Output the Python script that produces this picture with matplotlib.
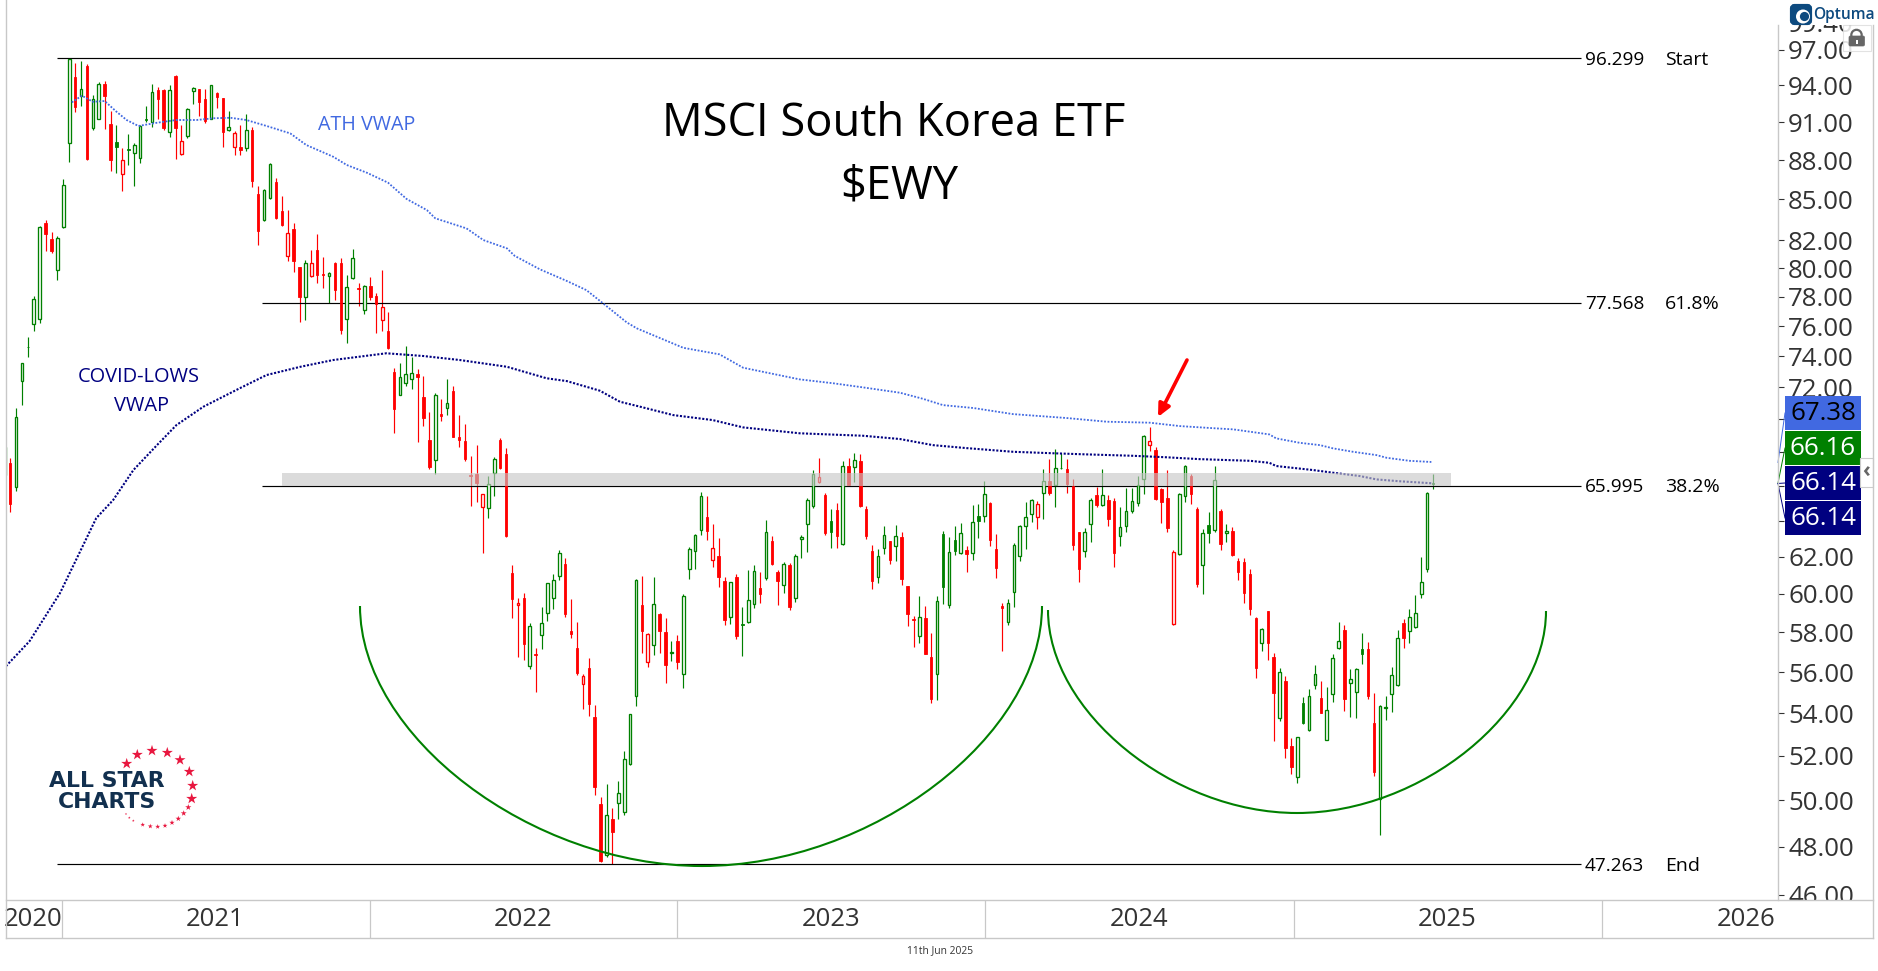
import numpy as np
import pandas as pd
import matplotlib
matplotlib.use('Agg')
import matplotlib.pyplot as plt
import matplotlib.dates as mdates
from matplotlib.lines import Line2D
from matplotlib.path import Path
from matplotlib.patches import PathPatch, Rectangle, FancyBboxPatch, Circle
from matplotlib.ticker import FixedLocator, FixedFormatter, NullLocator
from matplotlib.transforms import Affine2D, Bbox

plt.rcParams['font.family'] = ['Open Sans', 'DejaVu Sans']

colors = 'GRGGGGGRRGGGRGRGGRRGRGGGGGRRGRRGGRRGRRGRRGRRGGRRRRRGRRRGRRGGRGRRRRRGGGRRRGRGRRRRRRGGRRRRRGRGGGGRRRRRRRGRGGGGRRGRRGRGGGGRRRRGRGGGRGRRGRGGGGRRGRGRGRRRGGRGRRRGRRGGGGGRGGGRRRGGGGGRGRGGRRRGGRGRRGGGGGRRRRRGGRRGGGRGRRRRRGRRGRRGGGGRGGGRGGGRRGGGGRGGGGG'

opens = [66.64,67.33,65.95,72.42,74.63,76.16,76.50,83.22,82.05,79.88,82.97,89.31,94.67,93.12,95.62,90.55,91.22,94.09,90.85,89.39,86.95,88.84,88.58,88.19,91.28,91.03,93.62,93.62,90.23,94.78,
88.50,89.92,93.51,93.67,92.85,91.28,93.37,92.93,90.39,88.99,88.99,88.97,90.37,85.38,83.44,85.13,86.29,84.10,80.88,82.78,80.07,78.00,79.46,81.26,79.55,79.46,80.33,80.33,76.50,79.32,
78.58,77.06,78.72,78.02,76.39,75.65,72.98,71.49,72.30,72.51,72.83,71.39,68.73,67.50,70.30,70.68,71.77,68.89,68.65,66.64,66.69,64.76,64.70,66.73,68.73,67.88,61.09,59.39,59.76,56.28,
56.89,57.84,58.97,59.76,60.97,61.58,58.06,57.18,55.39,56.18,53.80,49.82,47.64,49.17,49.87,49.47,51.61,54.81,59.39,56.48,57.33,58.94,57.99,56.93,57.58,55.88,61.31,62.29,63.46,64.19,
61.80,62.02,60.66,58.77,60.88,58.40,58.51,59.44,60.29,60.83,62.85,61.15,60.45,61.53,59.76,62.96,63.80,64.86,66.21,65.47,63.96,64.61,62.68,67.17,67.13,67.46,64.67,62.31,60.91,62.46,
62.86,62.61,63.09,60.41,58.68,57.82,58.73,56.74,55.88,63.25,59.43,62.92,62.22,62.37,62.18,64.27,64.25,65.01,62.42,59.36,58.51,60.08,62.02,63.72,64.36,64.19,65.57,66.28,66.07,67.07,
66.97,66.01,63.37,62.29,63.80,65.47,64.87,65.18,65.10,63.12,63.68,64.53,64.99,66.42,68.44,68.10,65.82,65.28,58.44,62.16,65.43,66.58,64.65,61.53,63.74,63.46,64.55,63.29,63.42,61.76,
61.71,61.06,58.73,57.43,59.10,56.74,53.75,55.55,52.45,51.05,54.47,53.22,55.34,54.73,52.76,54.90,57.18,58.11,55.44,55.00,57.15,57.15,53.53,50.04,54.23,54.90,55.34,58.47,58.04,58.25,
59.97,61.31,66.17]

highs = [68.32,67.62,70.68,73.54,75.25,78.05,83.02,83.46,82.58,82.29,86.52,96.27,95.90,96.04,95.79,93.18,94.25,94.34,91.90,90.74,88.97,90.05,89.31,90.77,92.30,94.11,93.86,93.67,94.03,94.86,
90.77,92.11,93.86,93.67,93.67,94.03,93.45,92.96,91.90,90.29,90.77,91.65,90.58,86.01,85.78,87.75,86.59,85.25,84.20,83.24,80.09,80.57,81.28,82.44,80.76,79.74,80.40,80.69,79.51,81.35,
78.95,78.78,79.34,78.23,79.86,76.95,73.22,73.54,74.68,73.98,73.15,72.72,70.43,71.62,71.24,72.53,72.08,70.26,69.71,67.76,68.42,65.53,66.58,67.68,68.85,68.24,61.55,59.76,60.02,58.46,
57.18,59.29,60.59,61.06,62.37,61.91,59.73,58.52,55.88,56.68,54.39,50.13,50.75,49.67,50.86,52.22,53.94,60.79,60.95,57.94,60.90,58.97,58.71,57.55,57.86,59.99,62.51,63.23,65.64,65.41,
63.81,63.03,60.90,60.65,61.04,59.29,61.27,61.55,61.15,64.04,63.14,61.27,61.71,61.64,62.13,63.18,65.28,66.91,67.64,65.57,64.67,64.99,67.45,67.64,67.96,67.88,64.82,62.64,62.40,63.70,
62.88,63.74,63.37,60.41,58.84,59.88,59.36,57.94,59.88,63.42,63.09,63.70,63.87,62.59,64.89,64.95,66.28,65.07,63.25,59.51,59.73,62.73,63.74,65.07,65.22,65.12,66.97,67.58,68.18,67.92,
67.58,66.38,63.37,63.59,65.28,65.95,66.97,65.47,65.28,64.76,65.86,65.86,66.58,69.03,69.52,68.28,65.86,66.93,62.37,65.57,67.21,66.69,64.76,63.53,64.48,67.17,64.65,63.81,63.63,61.93,
61.93,61.33,58.77,58.20,59.10,56.93,56.21,55.80,52.84,52.86,54.79,55.19,56.33,55.55,55.28,56.89,58.52,58.37,56.15,56.18,57.94,57.48,54.95,54.39,54.82,56.24,58.11,58.68,59.20,59.94,
61.98,65.64,66.69]

lows = [66.64,64.51,65.72,70.88,73.98,75.69,76.23,81.23,81.09,79.16,82.90,87.88,91.84,92.33,88.03,90.39,91.22,90.45,87.15,87.03,85.65,87.62,86.03,87.80,91.03,90.58,91.22,90.39,89.84,88.11,
88.42,89.76,92.47,91.49,90.95,91.25,92.11,89.05,90.31,88.39,88.39,88.73,85.96,81.67,83.41,85.05,83.54,83.05,80.52,79.74,76.30,76.41,79.39,78.97,78.62,77.54,77.77,75.49,74.90,79.20,
77.38,76.84,77.77,75.56,75.69,74.50,69.17,71.49,72.08,71.91,68.63,69.60,67.01,66.69,69.89,70.28,68.93,68.32,67.48,64.86,65.09,62.22,64.17,65.43,66.97,63.10,58.75,56.76,56.59,56.13,
55.03,57.16,58.59,59.20,60.75,58.80,57.72,55.87,54.21,53.88,50.23,47.36,47.57,47.25,49.19,49.37,51.58,54.36,56.96,56.26,56.86,56.96,55.47,56.53,56.16,55.23,60.81,61.35,63.22,62.92,
61.45,60.38,58.39,58.44,57.67,56.81,58.49,59.27,59.53,60.75,61.55,59.41,60.06,59.15,59.58,61.95,62.27,64.74,66.15,63.22,62.48,62.48,62.64,66.01,66.24,64.80,62.99,60.25,60.59,62.15,
61.60,61.78,60.47,58.34,57.25,57.47,56.89,54.48,54.63,59.48,59.27,62.09,62.16,61.17,61.84,63.03,63.95,62.59,60.86,57.06,58.39,59.32,61.78,62.42,63.95,63.53,64.10,65.49,64.78,67.01,
65.59,62.37,60.63,62.00,62.81,64.80,64.84,63.70,61.45,62.59,63.38,64.46,64.86,65.55,68.06,65.18,63.87,63.38,58.39,62.07,65.09,64.97,60.38,60.01,62.75,63.38,62.37,62.81,62.05,60.74,
59.51,58.89,55.70,57.06,56.61,52.70,53.64,51.92,51.19,50.78,53.47,53.17,55.18,54.02,52.72,54.53,57.15,54.10,53.83,53.78,56.41,54.68,51.10,48.49,53.69,54.05,55.33,57.20,57.45,58.23,
59.80,61.17,65.82]

closes = [68.32,64.93,70.16,73.54,74.59,77.82,82.97,82.44,81.23,82.12,86.06,96.21,92.25,93.73,88.08,92.90,94.09,93.15,88.03,89.05,87.98,88.76,89.15,90.69,91.20,93.42,92.90,90.53,93.59,90.55,
89.47,92.03,93.75,92.66,91.12,94.00,93.07,90.23,90.63,90.10,88.79,90.34,86.41,82.68,85.68,87.67,83.61,83.10,82.49,80.52,78.00,80.33,80.33,79.53,79.51,79.67,78.48,75.76,78.65,80.73,
78.53,78.76,77.95,77.52,77.27,74.57,70.66,72.68,72.87,72.94,72.68,70.06,67.11,71.49,70.22,70.99,68.93,68.75,67.56,66.60,66.19,65.51,66.09,67.56,67.03,63.14,59.74,59.50,57.42,58.30,
56.84,58.46,60.56,60.72,62.18,58.96,57.92,55.96,55.82,54.45,50.60,47.40,49.38,48.63,50.34,51.84,53.94,60.72,58.08,57.89,59.44,58.08,56.36,57.01,56.51,59.87,62.40,63.22,65.39,63.44,
62.46,60.91,58.63,60.61,57.82,58.37,59.69,61.20,60.01,63.35,61.62,60.70,61.58,59.30,62.02,63.07,65.16,66.68,66.50,63.31,63.38,63.16,67.15,66.05,67.50,64.84,63.16,60.70,62.02,63.18,
61.84,63.12,60.81,58.96,58.65,58.77,56.91,54.69,59.65,60.34,62.24,62.33,63.29,62.16,63.91,64.00,65.51,62.94,61.40,59.27,59.50,62.62,63.68,64.19,65.16,64.93,66.26,65.59,67.03,67.05,
66.13,62.66,61.35,63.35,65.16,64.89,65.45,64.12,62.22,63.63,64.53,65.10,66.07,68.97,68.65,65.24,65.09,63.61,62.24,65.51,67.19,65.55,60.54,63.29,63.33,66.32,62.72,63.40,62.09,61.18,
60.06,59.20,56.21,58.15,57.47,54.98,55.98,52.38,51.51,52.86,53.55,54.81,55.88,54.02,54.13,56.68,57.58,54.69,55.68,56.15,56.91,54.84,51.28,54.34,54.32,55.83,57.69,57.72,58.77,58.97,
60.61,65.57,66.11]

ath_dates = '21-01-13 21-01-25 21-02-07 21-02-21 21-03-07 21-03-19 21-04-02 21-04-24 21-05-17 21-06-10 21-06-30 21-07-20 21-08-08 21-09-01 21-09-29 21-10-18 21-11-19 21-12-05 21-12-29 22-01-23 22-02-14 22-03-10 22-03-20 22-04-26 22-05-16 22-06-13 22-06-22 22-07-22 22-08-23 22-09-15 22-10-05 22-11-02 22-11-14 23-01-08 23-02-20 23-03-20 23-04-21 23-05-26 23-07-05 23-08-09 23-09-22 23-10-19 23-11-12 23-12-18 24-02-03 24-04-06 24-05-24 24-07-14 24-08-19 24-10-01 24-10-21 24-12-03 24-12-11 25-01-08 25-02-01 25-02-16 25-03-12 25-04-09 25-04-21 25-05-18 25-06-13'.split()
ath_vals = [92.60,93.15,92.65,92.71,91.84,91.17,90.69,90.95,91.17,91.17,91.31,91.35,91.17,90.69,90.10,89.18,88.26,87.62,87.02,86.26,85.03,84.20,83.59,82.85,82.00,81.40,80.87,79.91,79.09,78.46,77.54,76.25,75.85,74.56,74.13,73.26,72.90,72.51,72.26,72.00,71.66,71.28,70.88,70.70,70.32,70.08,69.85,69.79,69.58,69.44,69.38,69.07,68.83,68.56,68.42,68.23,68.02,67.82,67.66,67.48,67.41]
nav_dates = '20-10-27 20-11-24 20-12-30 21-02-11 21-03-03 21-03-27 21-04-24 21-05-17 21-06-18 21-07-31 21-09-01 21-10-11 21-11-19 21-12-29 22-01-21 22-03-06 22-04-18 22-06-13 22-07-30 22-08-23 22-10-01 22-10-25 22-11-18 22-12-27 23-02-12 23-03-20 23-05-26 23-06-19 23-08-09 23-09-22 23-10-31 23-12-10 24-02-03 24-03-22 24-04-26 24-06-24 24-08-03 24-09-11 24-11-10 24-12-03 24-12-11 25-01-24 25-02-17 25-03-20 25-04-09 25-05-07 25-06-15'.split()
nav_vals = [56.29,57.55,60.04,64.15,65.18,66.93,68.42,69.64,70.78,71.94,72.79,73.32,73.76,74.04,74.20,74.02,73.76,73.32,72.58,72.40,71.79,71.09,70.78,70.26,69.95,69.50,69.14,69.09,68.99,68.79,68.42,68.24,68.02,67.93,67.87,67.78,67.69,67.58,67.48,67.36,67.17,66.93,66.77,66.58,66.38,66.27,66.15]

level_vals = [96.299, 77.568, 65.995, 47.263]
level_names = ['Start', '61.8%', '38.2%', 'End']
level_starts = ['2020-12-26', '2021-08-27', '2021-08-27', '2020-12-26']
level_end = '2025-12-07'

price_ticks = [99.40, 97, 94, 91, 88, 85, 82, 80, 78, 76, 74, 72, 70, 68, 66, 64, 62, 60, 58, 56, 54, 52, 50, 48, 46]
covered_ticks = [70, 68, 66, 64]   # their labels sit behind the last-value flags
price_labels = ['' if v in covered_ticks else f'{v:.2f}' for v in price_ticks]
year_starts = ['2021-01-01', '2022-01-01', '2023-01-01', '2024-01-01', '2025-01-01', '2026-01-01']
year_labels = ['2020', '2021', '2022', '2023', '2024', '2025', '2026']
year_label_dates = ['2020-11-28', '2021-07-02', '2022-07-02', '2023-07-02', '2024-07-02', '2025-07-02', '2026-06-21']
last_values = [67.38, 66.16, 66.14, 66.14]
last_fill = ['#4169E1', '#008000', '#000080', '#000080']
last_text = ['black', 'white', 'white', 'white']

W, H = 1878, 971
fig = plt.figure(figsize=(W / 100, H / 100), dpi=100, facecolor='white')
ax = fig.add_axes([6 / W, (H - 900) / H, 1772 / W, 900 / H])
ax.patch.set_visible(False)
PX = Affine2D().scale(1, -1).translate(0, H)   # figure pixels, origin top-left

GREEN, RED = '#008000', '#ff0000'
GRID = '#c8c8c8'
dates = pd.date_range(end='2025-06-15', periods=len(closes), freq='W-SUN')
x = mdates.date2num(dates)
o, h, l, c = map(np.array, (opens, highs, lows, closes))
cols = np.array([GREEN if k == 'G' else RED for k in colors])
filled = c < o

ax.set_yscale('log')
ax.vlines(x, l, h, colors=cols, lw=0.85, zorder=2)
top = np.maximum(o, c)
bot = np.minimum(o, c)
ax.bar(x[filled], (top - bot)[filled], bottom=bot[filled], width=2.9, color=cols[filled],
       edgecolor=cols[filled], linewidth=0.6, zorder=3, log=False)
ax.bar(x[~filled], (top - bot)[~filled], bottom=bot[~filled], width=3.2, color='white',
       edgecolor=cols[~filled], linewidth=0.95, zorder=3, log=False)

# VWAP lines
ax.plot(pd.to_datetime(ath_dates, format='%y-%m-%d'), ath_vals, color='#4169E1', lw=1.3,
        ls=(0, (1, 0.9)), dash_capstyle='butt', zorder=3.2)
ax.plot(pd.to_datetime(nav_dates, format='%y-%m-%d'), nav_vals, color='#000080', lw=1.5,
        ls=(0, (1, 0.8)), dash_capstyle='butt', zorder=3.2)

# Fibonacci-style levels
for v, name, s in zip(level_vals, level_names, level_starts):
    ax.hlines(v, mdates.datestr2num(s), mdates.datestr2num(level_end), color='black', lw=0.85, zorder=2.5)
    y = 58 + 1132.5 * np.log(96.299 / v)
    ax.text(1585, y + 1.5, f'{v:.3f}', transform=PX, fontsize=13.7, va='center', ha='left', color='black')
    ax.text(1665, y + 1.5, name, transform=PX, fontsize=14, va='center', ha='left', color='black')

# resistance band
ax.add_patch(Rectangle((mdates.datestr2num('2021-09-19'), 65.97),
                       mdates.datestr2num('2025-07-06') - mdates.datestr2num('2021-09-19'), 66.77 - 65.97,
                       facecolor='#c6c6c6', alpha=0.63, edgecolor='none', zorder=4))

# cup arcs (cubic Bezier)
def bowl(x0, xm, x1, y0, ym, y1, k=0.5):
    verts = [(x0, y0), (x0, y0 + k * (ym - y0)), (xm - k * (xm - x0), ym), (xm, ym),
             (xm + k * (x1 - xm), ym), (x1, y1 + k * (ym - y1)), (x1, y1)]
    codes = [Path.MOVETO] + [Path.CURVE4] * 6
    ax.add_patch(PathPatch(Path(verts, codes), transform=PX, fill=False, edgecolor=GREEN, lw=1.5, zorder=3.5))
bowl(360, 702, 1042, 606, 866, 606)
bowl(1048, 1297, 1546, 610, 813, 611)

# text annotations
ax.text(894, 124, 'MSCI South Korea ETF', transform=PX, fontsize=32.6, ha='center', va='center', color='black')
ax.text(899, 186, '$EWY', transform=PX, fontsize=32.6, ha='center', va='center', color='black', parse_math=False)
ax.text(367, 125, 'ATH VWAP', transform=PX, fontsize=14.2, ha='center', va='center', color='#4169E1')
ax.text(139, 377, 'COVID-LOWS', transform=PX, fontsize=14.4, ha='center', va='center', color='#000080')
ax.text(141, 406, 'VWAP', transform=PX, fontsize=14.4, ha='center', va='center', color='#000080')
ax.annotate('', xy=(1158, 417), xycoords=PX, xytext=(1187, 360), textcoords=PX,
            arrowprops=dict(arrowstyle='-|>,head_length=0.75,head_width=0.36', color='red', lw=2.6,
                            shrinkA=0, shrinkB=0), zorder=5)

# All Star Charts logo
ax.text(107, 781, 'ALL STAR', transform=PX, fontsize=15.8, fontweight='bold', family='DejaVu Sans', ha='center', va='center', color='#12304f')
ax.text(107, 802, 'CHARTS', transform=PX, fontsize=15.8, fontweight='bold', family='DejaVu Sans', ha='center', va='center', color='#12304f')
star_x = [152, 137.3, 126.7, 167.3, 180, 189.3, 192.7, 191.7, 188.3, 183.7, 178.3, 172, 165, 157.7, 150.3, 142.7, 133.3, 129.3, 126]
star_y = [750.7, 754.7, 763.7, 752.7, 760, 771.7, 785.7, 798.7, 807.3, 813.3, 818.7, 822.7, 825.7, 826.7, 826.3, 824.7, 820.7, 817.7, 814]
star_s = [70, 70, 70, 70, 70, 70, 70, 70, 22, 20, 18, 16, 14, 14, 14, 12, 4, 4, 3]
ax.scatter(star_x, star_y, s=star_s, marker='*', color='#e8173f', linewidths=0, transform=PX, zorder=5)

# axes
ax.set_xlim(mdates.datestr2num('2020-10-27'), mdates.datestr2num('2026-07-29'))
ax.set_ylim(45.79, 101.36)
for s in ax.spines.values():
    s.set_visible(False)
ax.yaxis.tick_right()
ax.yaxis.set_major_locator(FixedLocator(price_ticks))
ax.yaxis.set_major_formatter(FixedFormatter(price_labels))
ax.yaxis.set_minor_locator(NullLocator())
ax.tick_params(axis='y', which='major', length=4.3, width=0.8, color='#333333', labelcolor='#333333', labelsize=18.6, pad=3)
clip = Bbox.from_extents(1778, H - 900, 1873, H - 25)
for t in ax.yaxis.get_major_ticks():
    t.label2.set_clip_box(clip)
    t.label2.set_clip_on(True)
ax.yaxis.get_major_ticks()[0].tick2line.set_visible(False)

ax.xaxis.set_major_locator(FixedLocator(mdates.datestr2num(year_starts)))
ax.xaxis.set_major_formatter(FixedFormatter([''] * len(year_starts)))
ax.xaxis.set_minor_locator(FixedLocator(mdates.datestr2num(year_label_dates)))
ax.xaxis.set_minor_formatter(FixedFormatter(year_labels))
ax.tick_params(axis='x', which='major', length=27.4, width=0.9, color=GRID)
ax.tick_params(axis='x', which='minor', length=0, labelcolor='#333333', labelsize=18.5, pad=5)

# frame
def pxline(x0, y0, x1, y1, color=GRID, lw=1.0):
    fig.add_artist(Line2D([x0 / W, x1 / W], [1 - y0 / H, 1 - y1 / H], color=color, lw=lw, transform=fig.transFigure))
pxline(6, 0, 6, 938)
pxline(6, 900, 1873, 900)
pxline(6, 938, 1873, 938)
pxline(1778, 25, 1778, 900)
pxline(1873, 25, 1873, 938)

# last-value flags
tops = [396, 431, 466, 501]
for v, fc, tc, ty in zip(last_values, last_fill, last_text, tops):
    vy = 58 + 1132.5 * np.log(96.299 / v)
    ax.plot([1778, 1785], [vy, ty + 17], color=fc, lw=0.7, transform=PX, clip_on=False, zorder=6)
    ax.add_patch(Rectangle((1785, ty), 76, 34, transform=PX, facecolor=fc, edgecolor='none', clip_on=False, zorder=6))
    ax.text(1823, ty + 17, f'{v:.2f}', transform=PX, fontsize=18.6, color=tc, ha='center', va='center', clip_on=False, zorder=7)

# collapse tab
ax.add_patch(Rectangle((1859.5, 458), 13, 29, transform=PX, facecolor='white', edgecolor='#cccccc', lw=0.8, clip_on=False, zorder=7))
ax.text(1866, 471, '\u2039', transform=PX, fontsize=15, fontweight='bold', color='#666666', ha='center', va='center', clip_on=False, zorder=8)

# Optuma mark and lock
ax.add_patch(FancyBboxPatch((1792, 6), 18, 17, boxstyle='round,pad=0,rounding_size=2.5', mutation_aspect=1,
                            transform=PX, facecolor='#0d4a7f', edgecolor='#0d4a7f', lw=3, clip_on=False, zorder=8))
ax.add_patch(Circle((1803, 16.5), 7, transform=PX, facecolor='white', edgecolor='none', clip_on=False, zorder=9))
ax.add_patch(Circle((1804.5, 16.5), 4.6, transform=PX, facecolor='#0d4a7f', edgecolor='none', clip_on=False, zorder=10))
ax.text(1813, 15, 'Optuma', transform=PX, fontsize=11.2, fontweight='semibold', color='#0d4a7f', ha='left', va='center', clip_on=False, zorder=9)
ax.add_patch(Rectangle((1843, 25), 28, 26, transform=PX, facecolor='white', alpha=0.85, edgecolor='#dddddd', lw=0.8, clip_on=False, zorder=8))
ax.add_patch(Circle((1856.5, 35), 5.2, transform=PX, facecolor='none', edgecolor='#666666', lw=1.6, clip_on=False, zorder=9))
ax.add_patch(FancyBboxPatch((1849, 36), 15.5, 10, boxstyle='round,pad=0,rounding_size=1.5', transform=PX,
                            facecolor='#666666', edgecolor='#666666', lw=0.5, clip_on=False, zorder=10))
ax.add_patch(Rectangle((1855.5, 39.5), 2, 4, transform=PX, facecolor='white', edgecolor='none', clip_on=False, zorder=11))

fig.text(940 / W, 1 - 951 / H, '11th Jun 2025', fontsize=7.4, color='#333333', ha='center', va='center')

fig.savefig('out.png', dpi=100, facecolor='white')
